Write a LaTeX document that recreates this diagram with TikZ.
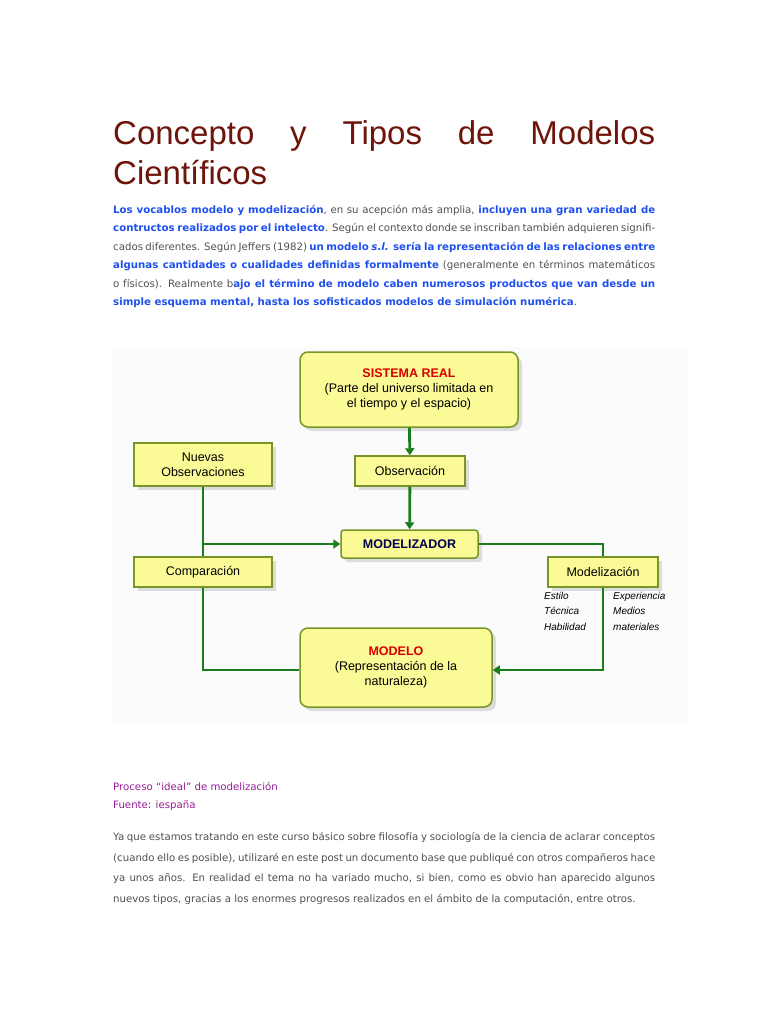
\documentclass[tikz,border=0pt]{standalone}
\usepackage{fontspec}
\setmainfont{Liberation Sans}
\newfontfamily\comic{DejaVu Sans}
\usetikzlibrary{shadows,arrows.meta}
\definecolor{titred}{RGB}{110,20,10}
\definecolor{bblue}{RGB}{30,80,240}
\definecolor{tgray}{RGB}{80,80,80}
\definecolor{gline}{RGB}{25,125,30}
\definecolor{byel}{RGB}{250,250,150}
\definecolor{bedge}{RGB}{120,150,40}
\definecolor{purp}{RGB}{150,30,150}
\newcommand{\bb}[1]{{\color{bblue}\bfseries #1}}
\begin{document}
\begin{tikzpicture}[x=1pt,y=-1pt,
  box/.style={draw=bedge,line width=1.5pt,fill=byel,drop shadow={opacity=0.25,shadow xshift=4pt,shadow yshift=-4pt},inner sep=0pt,align=center,font=\fontsize{12.5}{15}\selectfont},
  rbox/.style={box,rounded corners=8pt},
  gl/.style={draw=gline,line width=2.8pt},
  ar/.style={gl,-{Triangle[length=7pt,width=9pt]}},
  lab/.style={font=\itshape\fontsize{10}{15.5}\selectfont,align=left,anchor=north west,inner sep=0pt}]
\useasboundingbox (0,0) rectangle (768,1024);
\fill[white] (0,0) rectangle (768,1024);
% title
\node[anchor=base west,inner sep=0pt,text=titred,font=\fontsize{33}{36}\selectfont] (t1) at (113,145) {\makebox[542pt][s]{Concepto y Tipos de Modelos}};
\node[anchor=base west,inner sep=0pt,text=titred,font=\fontsize{33}{36}\selectfont] (t2) at (113,185) {Científicos};
% paragraph
\node[anchor=north west,inner sep=0pt,text width=542pt,align=justify,text=tgray,font=\comic\fontsize{10.2}{18.5}\selectfont] (p1) at (113,205) {\hyphenpenalty=10000 \bb{Los vocablos modelo y modelización}, en su acepción más amplia, \bb{incluyen una gran variedad de contructos realizados por el intelecto}. Según el contexto donde se inscriban también adquieren significados diferentes. Según Jeffers (1982) \bb{un modelo \textit{s.l.} sería la representación de las relaciones entre algunas cantidades o cualidades definidas formalmente} (generalmente en términos matemáticos o físicos). Realmente b\bb{ajo el término de modelo caben numerosos productos que van desde un simple esquema mental, hasta los sofisticados modelos de simulación numérica}.};
% diagram background
\fill[gray!3] (113,347) rectangle (688,722);
\node[rbox,minimum width=218pt,minimum height=75pt] (sr) at (409,389.5) {{\color{red!85!black}\bfseries SISTEMA REAL}\\(Parte del universo limitada en\\el tiempo y el espacio)};
\node[box,minimum width=138pt,minimum height=43pt] (nu) at (203,464.5) {Nuevas\\Observaciones};
\node[box,minimum width=110pt,minimum height=30pt] (ob) at (410,471) {Observación};
\node[box,rounded corners=3pt,minimum width=137pt,minimum height=28pt,font=\bfseries\fontsize{12.5}{15}\selectfont,text=blue!30!black] (mz) at (409.5,544) {MODELIZADOR};
\node[box,minimum width=138pt,minimum height=30pt] (co) at (203,572) {Comparación};
\node[box,minimum width=110pt,minimum height=30pt] (mn) at (603,572) {Modelización};
\node[rbox,minimum width=192pt,minimum height=79pt] (mo) at (396,667.5) {{\color{red!85!black}\bfseries MODELO}\\(Representación de la\\naturaleza)};
\coordinate (j1) at (203,544);
\coordinate (j2) at (603,544);
\coordinate (j3) at (203,670);
\coordinate (j4) at (603,670);
\draw[ar] (sr) -- (ob);
\draw[ar] (ob) -- (mz);
\draw[gl] (nu) -- (co);
\draw[ar] (j1) -- (mz);
\draw[gl] (mz.east) -- (j2) -- (mn.north);
\draw[gl] (co.south) -- (j3) -- (mo.west |- j3);
\draw[ar] (mn.south) -- (j4) -- (mo.east |- j4);
\node[lab] (l1) at (544,592) {Estilo\\Técnica\\Habilidad};
\node[lab] (l2) at (613,592) {Experiencia\\Medios\\materiales};
% caption
\node[anchor=base west,inner sep=0pt,text=purp,font=\comic\fontsize{10.2}{13}\selectfont] (c1) at (113,790) {Proceso “ideal” de modelización};
\node[anchor=base west,inner sep=0pt,text=purp,font=\comic\fontsize{10.2}{13}\selectfont] (c2) at (113,808) {Fuente: iespaña};
\node[anchor=north west,inner sep=0pt,text width=542pt,align=justify,text=tgray,font=\comic\fontsize{10.2}{20.8}\selectfont] (p2) at (113,832) {\hyphenpenalty=10000 Ya que estamos tratando en este curso básico sobre filosofía y sociología de la ciencia de aclarar conceptos (cuando ello es posible), utilizaré en este post un documento base que publiqué con otros compañeros hace ya unos años. En realidad el tema no ha variado mucho, si bien, como es obvio han aparecido algunos nuevos tipos, gracias a los enormes progresos realizados en el ámbito de la computación, entre otros.};
\end{tikzpicture}
\end{document}
